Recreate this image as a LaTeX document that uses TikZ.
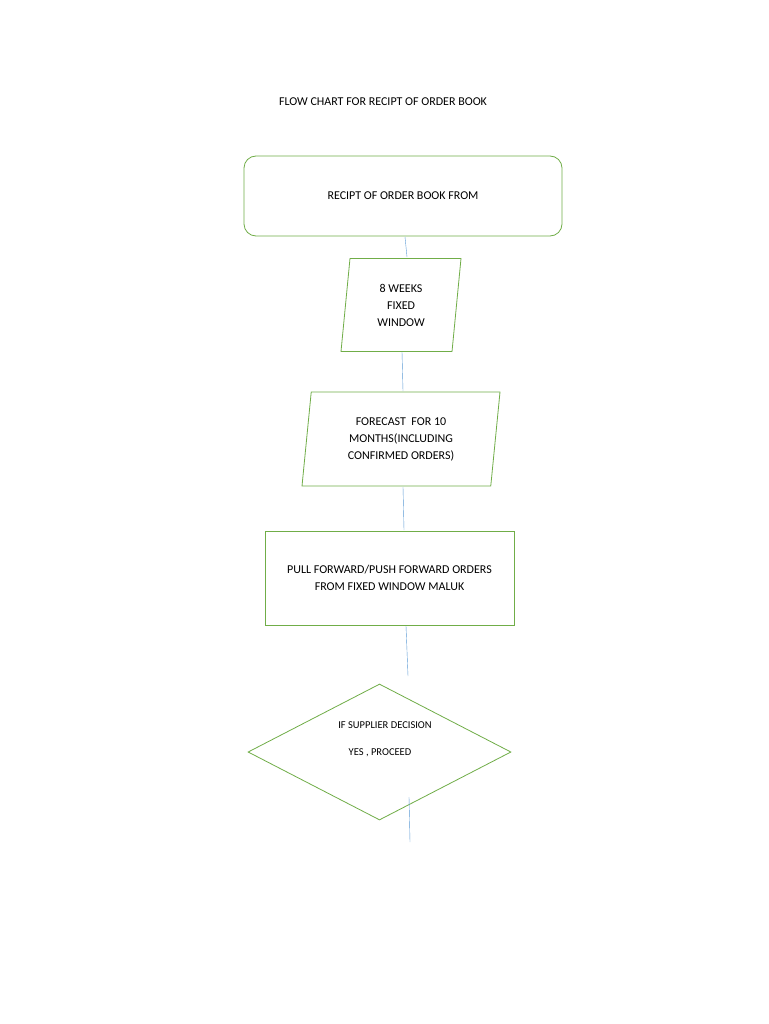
\documentclass[tikz,border=0pt]{standalone}
\usepackage{fontspec}
\setmainfont{Carlito}
\usetikzlibrary{shapes.geometric}
\definecolor{boxgreen}{RGB}{112,173,71}
\definecolor{linkblue}{RGB}{91,155,213}
\begin{document}
\begin{tikzpicture}[x=1pt,y=-1pt]
\tikzset{every node/.style={font=\fontsize{12}{17}\selectfont, align=center},
  box/.style={draw=boxgreen, thick},
  slanted/.style={box, trapezium, trapezium left angle=78, trapezium right angle=102,
    trapezium stretches body, minimum width=120pt, minimum height=93pt, inner sep=0pt},
  link/.style={draw=linkblue, thin}}

% white page
\fill[white] (0,0) rectangle (768,1024);

% title
\node (title) at (383,102) {FLOW CHART FOR RECIPT OF ORDER BOOK};

% boxes
\node[box, rounded corners=12pt, minimum width=318pt, minimum height=80pt] (recipt) at (403,196) {RECIPT OF ORDER BOOK FROM};
\node[slanted] (fixed) at (401,305) {8 WEEKS\\FIXED\\WINDOW};
\node[slanted, minimum width=198pt, minimum height=94pt] (forecast) at (401,439) {FORECAST\ \ FOR 10\\MONTHS(INCLUDING\\CONFIRMED ORDERS)};
\node[box, minimum width=249pt, minimum height=94pt] (pull) at (389.5,578) {PULL FORWARD/PUSH FORWARD ORDERS\\FROM FIXED WINDOW MALUK};
\node[box, diamond, minimum width=263pt, minimum height=136pt, inner sep=0pt, aspect=2] (decision) at (379.5,752) {};
\node[font=\fontsize{10.5}{13}\selectfont] (ifsup) at (385,725) {IF SUPPLIER DECISION};
\node[font=\fontsize{10.5}{13}\selectfont] (yes) at (380,753) {YES , PROCEED};

% connectors
\coordinate (d1) at (408,676);
\coordinate (d2) at (409,797);
\coordinate (d3) at (410,842);
\draw[link] (405,237) -- (407,257);
\draw[link] (402,352) -- (403,391);
\draw[link] (403,487) -- (404,530);
\draw[link] (406,626) -- (d1);
\draw[link] (d2) -- (d3);

\end{tikzpicture}
\end{document}
